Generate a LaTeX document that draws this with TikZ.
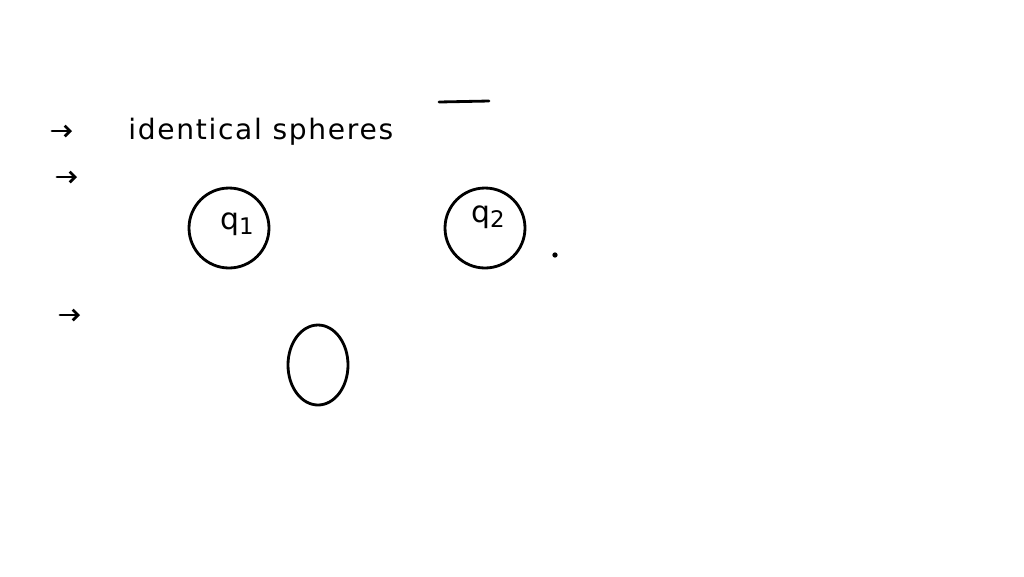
\documentclass[tikz,border=0pt]{standalone}
\usepackage{fontspec}
\setmainfont{DejaVu Sans}
\newfontfamily\wideface[LetterSpace=6]{DejaVu Sans}
\usetikzlibrary{arrows.meta}
\begin{document}
\begin{tikzpicture}[x=0.02cm,y=-0.02cm,
  ink/.style={line width=1.6pt,line cap=round,line join=round,black},
  bullet/.style={ink,-{Straight Barb[length=3pt,width=6pt]}},
  sphere/.style={ink,draw,circle,minimum size=1.6cm,inner sep=0pt},
  heading/.style={font=\wideface\fontsize{16}{19}\selectfont,inner sep=0pt},
  lbl/.style={font=\fontsize{17}{20}\selectfont,inner sep=0pt}]
\useasboundingbox (0,0) rectangle (1024,576);
% bullet arrows
\coordinate (a1s) at (52,131); \coordinate (a1e) at (72,131);
\coordinate (a2s) at (57,177); \coordinate (a2e) at (77,177);
\coordinate (a3s) at (60,315); \coordinate (a3e) at (80,315);
\draw[bullet] (a1s) -- (a1e);
\draw[bullet] (a2s) -- (a2e);
\draw[bullet] (a3s) -- (a3e);
% heading
\node[heading,anchor=west] (title) at (128,132) {identical spheres};
% short bar
\coordinate (b1) at (439,102); \coordinate (b2) at (489,101);
\draw[ink] (b1) -- (b2);
% spheres
\node[sphere] (s1) at (229,228) {};
\node[sphere] (s2) at (485,228) {};
\node[lbl] (q1) at (237,224) {q\raisebox{-0.35ex}{\fontsize{13}{15}\selectfont 1}};
\node[lbl] (q2) at (488,217) {q\raisebox{-0.35ex}{\fontsize{13}{15}\selectfont 2}};
% dot
\fill (555,255) circle (1.5pt);
% ellipse
\draw[ink] (318,365) ellipse [x radius=30,y radius=40];
\end{tikzpicture}
\end{document}
